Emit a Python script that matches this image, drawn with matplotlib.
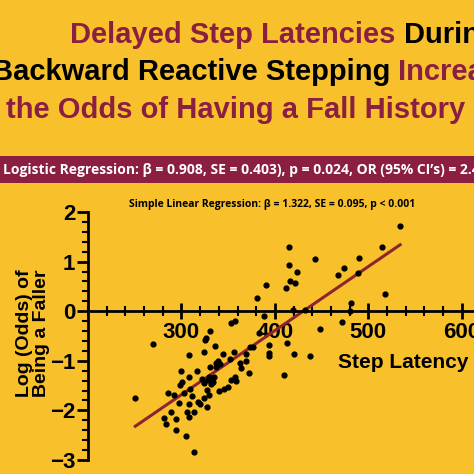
import matplotlib.pyplot as plt
from matplotlib.patches import Rectangle
from matplotlib.ticker import MultipleLocator

plt.rcParams['font.family'] = ['Liberation Sans', 'DejaVu Sans']

# step latency (ms) vs log odds of being a faller
latency = [250.6, 269.5, 281, 283, 285.6, 289, 291.6, 294.5, 294.5, 297, 298.7, 299.8,
           300.9, 303, 305, 305.9, 308, 308, 308.4, 308.4, 309.5, 310.9, 313, 313.4,
           316.6, 317.7, 319.4, 321.9, 323.7, 324.4, 324.4, 325, 326, 327.3, 327.3,
           328.3, 329, 329.8, 330, 330.8, 331.5, 332.6, 333.7, 334.4, 335.5, 336.5,
           337.3, 338.7, 339.7, 340.8, 344.4, 345.8, 349.4, 352.2, 353, 353, 355.8,
           357, 357.6, 358.6, 362.9, 363.6, 369, 369.3, 371.8, 373.6, 376.5, 380.7,
           383.2, 387.9, 390.7, 393.6, 393.6, 394, 409.6, 412, 412.8, 415.3, 415.3,
           415.6, 419, 420.9, 422, 423.5, 432.4, 437.7, 443, 448.5, 468, 471.7, 473.4,
           479.8, 481.6, 488.8, 490.2, 515, 518, 534]
log_odds = [-1.76, -0.66, -2.16, -2.28, -1.64, -2.03, -1.69, -2.18, -2.40, -1.85, -1.49,
            -1.20, -1.42, -1.64, -2.52, -2.03, -2.13, -1.87, -0.89, -1.32, -1.56, -1.70,
            -2.03, -2.83, -1.20, -1.84, -1.88, -1.36, -1.44, -0.82, -1.76, -0.58, -0.55,
            -1.59, -1.94, -1.39, -1.69, -1.32, -1.12, -0.40, -1.46, -1.38, -1.42, -1.32,
            -0.70, -1.05, -1.12, -1.01, -1.60, -1.07, -0.87, -1.56, -1.52, -0.97, -1.38,
            -0.23, -0.82, -0.19, -1.32, -1.40, -1.04, -1.15, -0.87, -1.00, -1.24, -0.72,
            -0.72, 0.27, -0.43, -0.10, 0.52, -0.68, -0.85, -0.90, -1.29, 0.47, -0.64,
            1.30, 0.93, 0.61, 0.02, -0.87, 0.57, 0.79, 0.03, -0.91, 1.05, -0.35, 0.72,
            -0.21, 0.88, 0.00, 0.17, 0.78, 1.07, 1.30, 0.34, 1.71]
fit_x = [250.6, 534]
fit_y = [-2.32, 1.34]
x_ticks = [300, 400, 500, 600]
y_ticks = [-3, -2, -1, 0, 1, 2]

BG = '#F8C12C'
MAROON = '#8A1F42'
LINE = '#8E2430'

W = H = 474
fig = plt.figure(figsize=(4.74, 4.74), dpi=100, facecolor=BG)

def fx(px):
    return px / W

def fy(py):
    return 1 - py / H

# title
tkw = dict(fontsize=21, fontweight='bold', va='center')
fig.text(fx(404), fy(35), 'Delayed Step Latencies ', color=MAROON, ha='right', **tkw)
fig.text(fx(404), fy(35), 'During', color='black', ha='left', **tkw)
fig.text(fx(398), fy(72), 'Backward Reactive Stepping ', color='black', ha='right', **tkw)
fig.text(fx(398), fy(72), 'Increases', color=MAROON, ha='left', **tkw)
fig.text(fx(6), fy(110), 'the Odds of Having a Fall History', color=MAROON, ha='left', **tkw)

# banner
fig.patches.append(Rectangle((0, fy(183)), 1, (183 - 156) / H, transform=fig.transFigure,
                             facecolor=MAROON, edgecolor='none', zorder=0))
fig.text(fx(3), fy(170), "Logistic Regression: β = 0.908, SE = 0.403), p = 0.024, OR (95% CI’s) = 2.48",
         color='white', fontsize=10, fontweight='bold', ha='left', va='center',
         family=['Open Sans', 'DejaVu Sans'])

# scatter plot
ax = fig.add_axes([fx(88), fy(460), 1 - fx(88), (460 - 212) / H])
ax.set_facecolor(BG)
ax.scatter(latency, log_odds, s=12, color='black', zorder=3)
ax.plot(fit_x, fit_y, color=LINE, lw=2.2, zorder=2)
ax.set_xlim(200, 613)
ax.set_ylim(-3, 2)
for s in ['top', 'right']:
    ax.spines[s].set_visible(False)
ax.spines['bottom'].set_position(('data', 0))
ax.spines['left'].set_linewidth(2)
ax.spines['bottom'].set_linewidth(2)
ax.set_xticks(x_ticks)
ax.set_yticks(y_ticks)
ax.xaxis.set_minor_locator(MultipleLocator(20))
ax.yaxis.set_minor_locator(MultipleLocator(0.2))
ax.tick_params(axis='x', which='major', direction='inout', length=12, width=2, labelsize=16, pad=2)
ax.tick_params(axis='x', which='minor', direction='inout', length=7, width=1.5)
ax.tick_params(axis='y', which='major', direction='out', length=8, width=2, labelsize=16, pad=1)
ax.tick_params(axis='y', which='minor', direction='out', length=4, width=1.5)
for lab in ax.get_xticklabels() + ax.get_yticklabels():
    lab.set_fontweight('bold')

fig.text(fx(468), fy(362), 'Step Latency', fontsize=15, fontweight='bold', ha='right', va='center')
fig.text(fx(33), fy(333), 'Log (Odds) of\nBeing a Faller', fontsize=14, fontweight='bold',
         rotation=90, ha='center', va='center', linespacing=1.05)
fig.text(fx(272), fy(205), 'Simple Linear Regression: β = 1.322, SE = 0.095, p < 0.001',
         fontsize=7.5, fontweight='bold', ha='center', va='center',
         family=['Open Sans', 'DejaVu Sans'])

fig.savefig('out.png', dpi=100, facecolor=BG)
